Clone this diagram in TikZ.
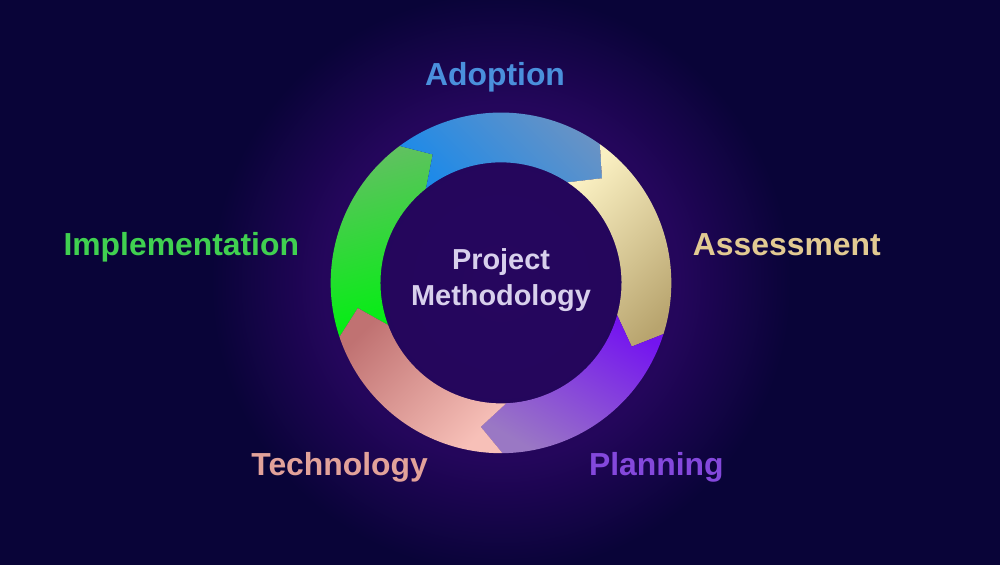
\documentclass[tikz,border=0pt]{standalone}
\usepackage{fontspec}
\setmainfont{Liberation Sans}
\definecolor{bgnavy}{HTML}{090438}
\definecolor{glowc}{HTML}{26065E}
\definecolor{adoptc}{HTML}{4A90DC}
\definecolor{implc}{HTML}{40D050}
\definecolor{assessc}{HTML}{E2CA92}
\definecolor{techc}{HTML}{E2A29A}
\definecolor{planc}{HTML}{8448DC}
\definecolor{centerc}{HTML}{D8D0EC}
\pgfdeclareradialshading{glow}{\pgfpoint{0bp}{0bp}}{color(0bp)=(glowc); color(8bp)=(glowc!92!bgnavy); color(13bp)=(bgnavy); color(50bp)=(bgnavy)}
\tikzset{
steplabel/.style={font=\bfseries\fontsize{32}{38}\selectfont, anchor=base},
hublabel/.style={font=\bfseries\fontsize{29}{36}\selectfont, text=centerc, align=center}
}
% one arrow of the ring, tip angle #1
\newcommand{\ringpart}[2]{%
  \shade[#2] ({#1+80.5}:171) arc[start angle={#1+80.5}, end angle={#1+8.5}, radius=171]
    -- (#1:146) -- ({#1+10.5}:121)
    arc[start angle={#1+10.5}, end angle={#1+82.5}, radius=121]
    -- ({#1+72}:146) -- cycle;}

\begin{document}
\begin{tikzpicture}[x=1pt, y=1pt]
	\fill[bgnavy] (-2,-2) rectangle (1002,565);
	\useasboundingbox (0,0) rectangle (1000,563);
	\begin{scope}
		\clip (-2,-2) rectangle (1002,565);
		\shade[shading=glow] (501,281) circle (560);
	\end{scope}
	\begin{scope}[shift={(501,281)}]
		\ringpart{118}{top color={rgb,255:red,98;green,192;blue,98}, bottom color={rgb,255:red,0;green,240;blue,16}, shading angle=15}
		\ringpart{46}{top color={rgb,255:red,106;green,147;blue,196}, bottom color={rgb,255:red,30;green,138;blue,232}, shading angle=-45}
		\ringpart{-26}{top color={rgb,255:red,250;green,240;blue,194}, bottom color={rgb,255:red,184;green,164;blue,110}, shading angle=45}
		\ringpart{-98}{top color={rgb,255:red,116;green,20;blue,240}, bottom color={rgb,255:red,154;green,120;blue,196}, shading angle=-30}
		\ringpart{-170}{top color={rgb,255:red,192;green,114;blue,114}, bottom color={rgb,255:red,247;green,192;blue,184}, shading angle=45}
	\end{scope}
	\node[steplabel, text=adoptc] (adopt) at (495,479) {Adoption};
	\node[steplabel, text=implc] (impl) at (180,308) {Implementation};
	\node[steplabel, text=assessc] (assess) at (788,308) {Assessment};
	\node[steplabel, text=techc] (tech) at (339,88) {Technology};
	\node[steplabel, text=planc] (plan) at (657,88) {Planning};
	\node[hublabel] (hub) at (501,284) {Project\\Methodology};
\end{tikzpicture}
\end{document}
